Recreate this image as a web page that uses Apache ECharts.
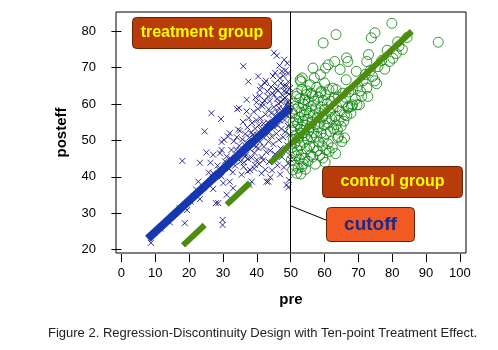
<!DOCTYPE html>
<html>
<head>
<meta charset="utf-8">
<script src="https://cdn.jsdelivr.net/npm/echarts@6/dist/echarts.min.js"></script>
<style>
  html, body { margin: 0; padding: 0; background: #fff; }
  #chart { width: 498px; height: 350px; }
</style>
</head>
<body>
<div id="chart"></div>
<script>
// 刻度
var xTicks = [0, 10, 20, 30, 40, 50, 60, 70, 80, 90, 100];
var yTicks = [20, 30, 40, 50, 60, 70, 80];
var cutoff = 50;

// treatment group (pre < 50)
var treatment = [
  [8.7,21.9],[18.0,44.4],[18.7,27.3],[22.7,38.7],[23.2,43.9],[23.2,33.9],[24.6,52.5],[25.1,46.7],
  [26.6,57.5],[26.3,43.9],[27.1,46.1],[27.1,41.0],[27.1,36.7],[27.9,32.8],[28.6,32.8],[29.4,55.9],
  [29.6,49.6],[29.1,46.5],[29.9,28.2],[29.9,26.8],[29.6,47.4],[29.6,40.1],[30.1,38.3],[30.3,50.2],
  [31.1,35.1],[31.1,45.6],[31.5,51.1],[32.0,52.0],[32.0,38.7],[32.5,47.4],[33.0,36.9],[33.5,45.2],
  [34.2,58.6],[34.5,53.0],[34.8,58.9],[35.5,40.6],[36.0,70.4],[36.5,45.6],[37.0,61.2],[37.0,58.0],
  [37.5,66.2],[37.8,37.8],[38.0,41.9],[38.5,38.7],[39.4,43.3],[39.9,60.5],[40.4,67.6],[41.4,41.0],
  [42.4,65.8],[42.9,38.7],[43.4,38.7],[45.1,74.1],[45.9,73.3],[45.4,68.6],[47.8,67.8],[48.1,72.2],
  [48.8,37.8],[49.3,37.1],[49.5,39.2],
  [33.2,49.8],[33.6,43.1],[33.9,47.5],[34.1,50.9],[34.4,45.0],[34.8,48.6],[35.0,52.7],[35.2,44.2],
  [35.5,47.1],[35.7,50.3],[35.9,55.1],[36.1,42.8],[36.3,48.9],[36.6,51.8],
  [36.8,46.1],[37.0,49.5],[37.2,53.6],[37.4,44.9],[37.6,56.2],[37.8,50.8],[38.0,47.6],[38.2,52.1],
  [38.4,45.3],[38.6,54.8],[38.8,49.0],[39.0,51.7],[39.1,57.9],[39.3,46.6],[39.5,53.3],[39.7,48.2],
  [39.9,55.6],[40.0,44.7],
  [40.2,51.5],[40.3,58.7],[40.5,47.9],[40.6,54.2],[40.8,62.3],[41.0,49.6],[41.1,56.1],[41.3,52.8],
  [41.5,45.4],[41.6,59.4],[41.8,50.9],[42.0,54.7],[42.1,48.3],[42.3,61.0],[42.4,53.6],[42.6,57.2],
  [42.8,46.8],[42.9,51.4],[43.1,63.5],
  [43.2,55.0],[43.4,49.7],[43.5,58.6],[43.7,52.3],[43.8,60.8],[44.0,47.2],[44.1,54.4],[44.3,57.5],
  [44.4,51.1],[44.6,62.9],[44.7,55.9],[44.9,49.0],[45.0,59.2],[45.2,53.5],[45.3,65.7],[45.5,56.8],
  [45.6,44.6],[45.8,51.9],[45.9,61.4],[46.0,57.9],
  [46.2,54.1],[46.3,63.8],[46.5,50.2],[46.6,58.9],[46.8,67.1],[46.9,55.5],[47.0,47.8],[47.2,60.6],
  [47.3,53.2],[47.5,62.4],[47.6,57.1],[47.8,50.9],[47.9,64.9],[48.0,58.4],
  [48.2,55.6],[48.3,61.7],[48.4,52.4],[48.5,69.3],[48.7,59.8],[48.8,56.9],[48.9,63.2],[49.0,48.7],
  [49.1,60.5],[49.2,54.0],[49.3,66.2],[49.4,58.1],[49.5,62.8],[49.6,51.6],[49.7,57.3],[49.8,64.4],
  [49.9,59.9],[49.9,44.8],
  [39.6,61.8],[40.9,63.9],[41.7,60.2],[42.7,66.4],[43.3,62.1],[44.2,64.7],[45.1,62.6],[46.4,60.1],
  [47.1,65.8],[47.7,61.3],[48.6,65.0],[49.2,68.4],[49.6,61.0],[41.2,64.9],[44.8,67.7],[46.7,70.6],
  [48.1,63.6],[49.0,71.2],[47.4,69.0],[45.7,64.1],
  [20.5,33.2],[22.1,36.5],[24.2,37.1],[25.8,41.2],[26.9,39.5],[28.4,43.1],[29.0,41.9],[30.6,44.3],
  [31.8,42.2],[32.4,44.9],[32.9,41.3],[14.3,27.5],[11.6,25.8],[17.2,31.4],[19.4,30.9],[21.3,34.8],
  [40.7,43.5],[42.5,42.0],[43.6,44.1],[44.5,41.8],[45.4,46.3],[46.1,43.2],[47.4,45.5],[48.0,42.6],
  [48.6,47.0],[49.4,43.8],[46.9,40.7],[44.0,39.9],[41.9,44.6],[39.2,42.3],[37.3,41.5],[36.2,44.0]
];

// control group (pre >= 50)
var control = [
  [79.9,82.2],[63.4,79.1],[59.6,76.8],[74.9,79.6],[73.8,78.2],[93.6,77.0],[82.0,75.9],[81.2,73.9],
  [79.2,71.7],[73.0,73.6],[72.5,71.7],[66.5,72.7],[66.9,71.7],[63.0,71.7],[61.1,70.8],[60.3,69.9],
  [56.6,69.9],[64.6,69.5],[69.4,69.0],[53.4,67.2],[58.8,68.1],[74.9,66.4],[75.4,65.6],[72.5,64.4],
  [72.8,62.1],[71.0,62.1],[70.3,59.8],[69.6,59.8],[68.0,59.4],[67.0,59.2],[64.1,51.1],[65.1,49.7],
  [52.8,66.7],[53.0,66.2],[57.0,67.2],[60.0,65.8],[62.4,64.4],[56.0,63.0],[59.0,63.5],[51.6,62.1],
  [54.5,62.6],[63.4,64.0],[65.4,63.0],[68.3,59.8],[66.9,58.9],[65.9,57.1],[63.4,54.3],[63.9,50.7],
  [65.9,50.7],[61.4,47.0],[59.5,45.2],[60.4,47.4],[51.8,41.0],[53.3,42.8],[66.4,66.7],
  [50.2,44.6],[50.3,52.8],[50.4,48.1],[50.5,57.4],[50.6,41.9],[50.7,55.0],[50.8,50.3],[50.9,60.2],
  [51.0,46.5],[51.1,53.9],[51.2,43.2],[51.3,58.6],[51.4,49.4],[51.5,55.7],[51.7,45.8],[51.8,51.6],
  [51.9,62.9],
  [52.0,47.3],[52.1,54.6],[52.2,42.4],[52.3,59.1],[52.4,50.7],[52.5,56.3],[52.6,44.9],[52.7,61.5],
  [52.8,48.6],[52.9,53.1],[53.0,40.8],[53.1,57.8],[53.2,46.2],[53.3,64.1],[53.4,52.0],[53.6,55.4],
  [53.7,43.6],[53.8,59.9],[53.9,49.5],
  [54.0,56.9],[54.1,45.1],[54.2,61.2],[54.3,51.3],[54.4,42.1],[54.5,54.2],[54.6,58.4],[54.7,47.7],
  [54.8,63.6],[54.9,50.4],[55.0,55.8],[55.1,44.3],[55.2,60.7],[55.3,52.6],[55.5,57.5],[55.6,48.4],
  [55.7,65.3],[55.8,53.8],[55.9,46.0],
  [56.0,59.4],[56.1,50.9],[56.3,55.1],[56.4,62.3],[56.5,45.5],[56.6,57.0],[56.8,52.2],[56.9,48.1],
  [57.0,60.8],[57.2,54.4],[57.3,43.5],[57.4,58.7],[57.6,51.1],[57.7,64.6],[57.8,56.3],[57.9,47.2],
  [58.1,53.7],[58.2,61.9],[58.3,49.6],[58.5,57.6],[58.6,45.9],[58.7,55.0],[58.9,63.1],[59.0,52.0],
  [59.1,59.2],[59.3,48.5],[59.4,56.4],[59.6,61.0],[59.7,50.6],[59.9,54.2],
  [60.0,58.5],[60.2,44.0],[60.3,62.6],[60.5,51.8],[60.6,56.0],[60.8,60.1],[61.0,49.1],[61.1,54.8],
  [61.3,64.0],[61.5,57.9],[61.7,52.5],[61.9,60.8],
  [62.1,55.9],[62.3,48.0],[62.5,58.9],[62.7,53.2],[62.9,61.7],[63.1,56.6],[63.3,46.4],[63.6,59.3],
  [63.8,52.9],[64.0,62.0],[64.3,55.6],[64.6,58.1],[64.9,53.9],
  [65.3,60.4],[65.7,55.3],[66.2,61.9],[66.6,56.8],[67.2,63.3],[67.8,57.5],[68.4,64.1],[69.1,61.3],
  [69.8,65.0],[70.6,63.6],[71.4,66.4],[72.0,68.1],
  [73.5,69.2],[74.2,67.6],[75.8,70.3],[76.9,72.0],[77.8,69.6],[78.5,74.8],[80.2,72.6],[81.6,77.1],
  [83.0,75.0],[84.4,78.3]
];

// regression lines
var treatFit = [[7.8, 23.0], [50, 59.2]];
var controlFit = [[43.9, 43.8], [85.8, 80.0]];
var controlDash1 = [[18.2, 21.2], [24.6, 26.8]];
var controlDash2 = [[31.1, 32.4], [38.0, 38.4]];

var myChart = echarts.init(document.getElementById('chart'));

function fitLine(data, color, width) {
  return {
    type: 'line', data: data, symbol: 'none', silent: true, z: 4,
    lineStyle: { color: color, width: width, cap: 'butt' }
  };
}

function labelBox(x, y, w, h, fill, text, textColor, size) {
  return {
    type: 'group', left: x, top: y, children: [
      { type: 'rect', shape: { x: 0, y: 0, width: w, height: h, r: 4 },
        style: { fill: fill, stroke: '#6b2200', lineWidth: 1 } },
      { type: 'text', x: w / 2, y: h / 2,
        style: { text: text, fill: textColor, font: 'bold ' + size + 'px "Liberation Sans", Arial, sans-serif',
                 align: 'center', verticalAlign: 'middle' } }
    ]
  };
}

var option = {
  animation: false,
  textStyle: { fontFamily: '"Liberation Sans", Arial, sans-serif' },
  grid: { left: 116, right: 32, top: 12, bottom: 97, show: true, borderColor: '#000', borderWidth: 1 },
  xAxis: {
    type: 'value', min: -1.6, max: 101.8, offset: 1,
    axisLine: { show: false },
    axisTick: { show: true, length: 8, customValues: xTicks, lineStyle: { color: '#000' } },
    axisLabel: { customValues: xTicks, color: '#000', fontSize: 13, margin: 13 },
    splitLine: { show: false },
    name: 'pre', nameLocation: 'middle', nameGap: 38,
    nameTextStyle: { fontWeight: 'bold', fontSize: 15, color: '#000' }
  },
  yAxis: {
    type: 'value', min: 19.1, max: 85.3, offset: 2,
    axisLine: { show: false },
    axisTick: { show: true, length: 10, customValues: yTicks, lineStyle: { color: '#000' } },
    axisLabel: { customValues: yTicks, color: '#000', fontSize: 13, margin: 18 },
    splitLine: { show: false },
    name: 'posteff', nameLocation: 'middle', nameGap: 45,
    nameTextStyle: { fontWeight: 'bold', fontSize: 15, color: '#000' }
  },
  series: [
    {
      type: 'scatter', data: treatment, z: 2,
      symbol: 'path://M0,0L10,10M10,0L0,10', symbolSize: 6,
      itemStyle: { color: 'transparent', borderColor: '#000080', borderWidth: 1 },
      markLine: {
        silent: true, symbol: 'none', label: { show: false },
        lineStyle: { color: '#000', width: 1, type: 'solid' },
        data: [{ xAxis: cutoff }]
      }
    },
    {
      type: 'scatter', data: control, z: 3,
      symbol: 'circle', symbolSize: 10,
      itemStyle: { color: 'transparent', borderColor: '#008000', borderWidth: 1 }
    },
    fitLine(treatFit, '#1737b0', 8),
    fitLine(controlFit, '#4e8c0e', 6),
    fitLine(controlDash1, '#4e8c0e', 6),
    fitLine(controlDash2, '#4e8c0e', 6)
  ],
  graphic: [
    labelBox(132, 17, 139, 31, '#b83c0a', 'treatment group', '#ffff00', 16),
    labelBox(322, 166, 140, 31, '#b83c0a', 'control group', '#ffff00', 16),
    { type: 'line', shape: { x1: 291, y1: 206, x2: 326, y2: 220 }, style: { stroke: '#000', lineWidth: 1 } },
    labelBox(326, 207, 88, 34, '#f25a24', 'cutoff', '#1b2a8a', 19),
    {
      type: 'text', left: 48, top: 327,
      style: { text: 'Figure 2. Regression-Discontinuity Design with Ten-point Treatment Effect.',
               fill: '#222', font: '13px "Liberation Sans", Arial, sans-serif' }
    }
  ]
};

myChart.setOption(option);
</script>
</body>
</html>
